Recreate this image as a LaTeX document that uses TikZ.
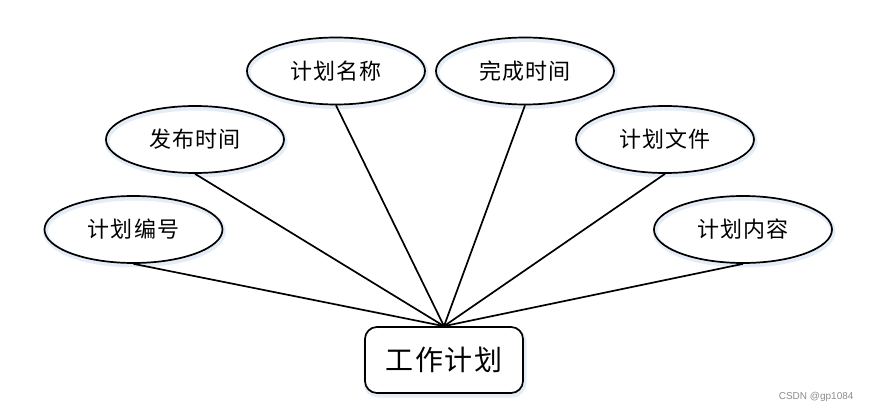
\documentclass[tikz,border=0pt]{standalone}
\usepackage{fontspec}
\newfontfamily\cjk{Noto Sans CJK SC}[LetterSpace=6]
\newfontfamily\wmfont{Liberation Sans}
\usetikzlibrary{shapes.geometric}
\begin{document}
\begin{tikzpicture}[
    x=1pt,
    y=-1pt,
    attr/.style={ellipse, draw, line width=1.7pt, minimum width=178pt, minimum height=67pt, inner sep=0pt,
      font=\cjk\fontsize{22}{26}\selectfont},
    entity/.style={draw, rounded corners=12pt, line width=1.7pt, minimum width=158pt, minimum height=66pt, inner sep=0pt,
      font=\cjk\fontsize{28}{32}\selectfont},
    glow/.style={line width=5pt, draw={rgb,255:red,228;green,236;blue,246}},
    link/.style={line width=1.7pt}
  ]
    \useasboundingbox (0,0) rectangle (871,414);

    % soft halo under the shapes
    \foreach \cx/\cy in {133.5/229.5, 195/139.5, 336/71, 525/71, 665/139.5, 743/229.5} {
      \draw[glow] (\cx+1,\cy+2) ellipse [x radius=89pt, y radius=33.5pt];
    }
    \draw[glow, rounded corners=12pt] (366,330) rectangle (524,395);

    \node[attr] (bh) at (133.5,229.5) {计划编号};
    \node[attr] (fb) at (195,139.5) {发布时间};
    \node[attr] (mc) at (336,71) {计划名称};
    \node[attr] (wc) at (525,71) {完成时间};
    \node[attr] (wj) at (665,139.5) {计划文件};
    \node[attr] (nr) at (743,229.5) {计划内容};

    \node[entity, fill=white] (plan) at (444,360) {工作计划};

    \foreach \a in {bh,fb,mc,wc,wj,nr} {
      \draw[link] (\a.south) -- (plan.north);
    }

    \node[font=\wmfont\fontsize{10}{12}\selectfont, text=black!45, anchor=east] (mark) at (857,397) {CSDN @gp1084};
\end{tikzpicture}
\end{document}
